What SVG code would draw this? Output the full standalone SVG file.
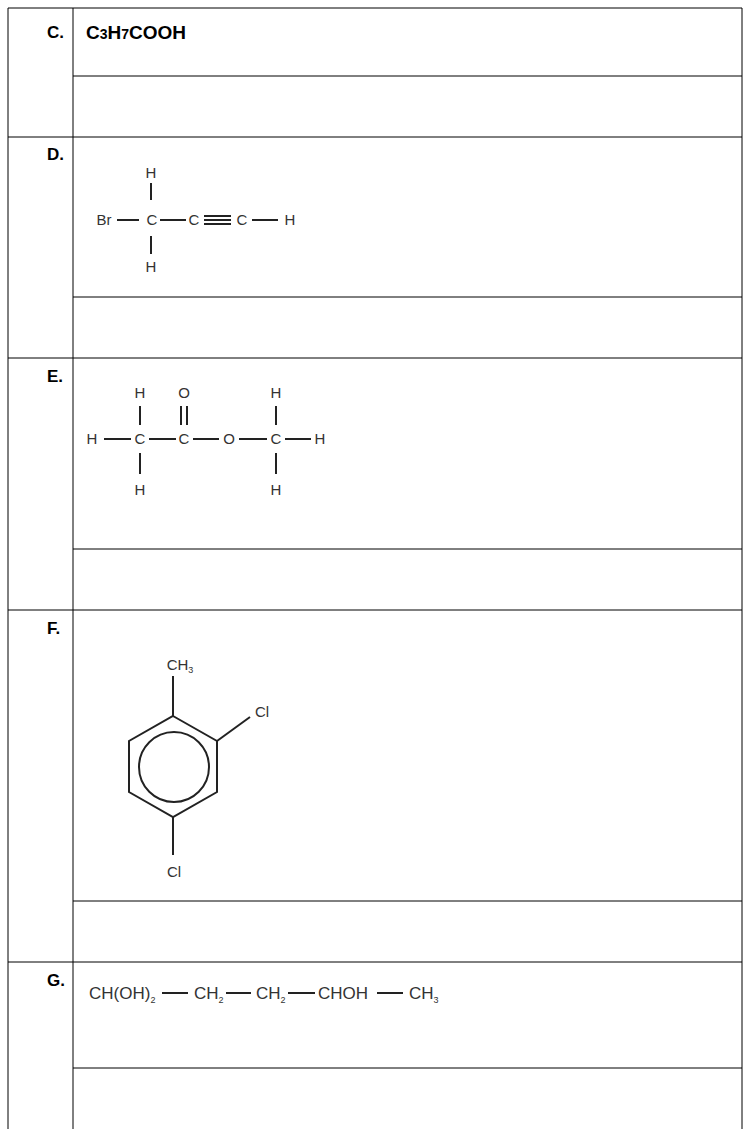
<svg xmlns="http://www.w3.org/2000/svg" width="752" height="1129" viewBox="0 0 752 1129">
<style>
.g{stroke:#000;stroke-width:1;fill:none}
.b{stroke:#222;stroke-width:2;fill:none}
.lab{font-family:"Liberation Sans",Arial,sans-serif;font-weight:bold;font-size:17px;fill:#000}
.a{font-family:"Liberation Sans",Arial,sans-serif;font-size:15px;fill:#333;text-anchor:middle}
.s{font-family:"Liberation Sans",Arial,sans-serif;font-size:9px;fill:#333}
.f{font-family:"Liberation Sans",Arial,sans-serif;font-size:17px;fill:#333}
</style>
<rect width="752" height="1129" fill="#fff"/>
<g id="table" class="g">
<line x1="8" y1="8" x2="742" y2="8"/>
<line x1="8" y1="8" x2="8" y2="1129"/>
<line x1="73" y1="8" x2="73" y2="1129"/>
<line x1="742" y1="8" x2="742" y2="1129"/>
<line x1="73" y1="76" x2="742" y2="76"/>
<line x1="8" y1="137" x2="742" y2="137"/>
<line x1="73" y1="297" x2="742" y2="297"/>
<line x1="8" y1="358" x2="742" y2="358"/>
<line x1="73" y1="549" x2="742" y2="549"/>
<line x1="8" y1="610" x2="742" y2="610"/>
<line x1="73" y1="901" x2="742" y2="901"/>
<line x1="8" y1="962" x2="742" y2="962"/>
<line x1="73" y1="1068" x2="742" y2="1068"/>
</g>
<g id="labels">
<text class="lab" x="47" y="38">C.</text>
<text class="lab" x="86" y="39" style="font-size:19px">C<tspan style="font-size:14px">3</tspan>H<tspan style="font-size:14px">7</tspan>COOH</text>
<text class="lab" x="47" y="160">D.</text>
<text class="lab" x="47" y="382">E.</text>
<text class="lab" x="47" y="634">F.</text>
<text class="lab" x="47" y="986">G.</text>
</g>
<g id="molD">
<text class="a" x="104" y="225">Br</text>
<text class="a" x="152" y="225">C</text>
<text class="a" x="151" y="178">H</text>
<text class="a" x="151" y="272">H</text>
<text class="a" x="194" y="225">C</text>
<text class="a" x="242" y="225">C</text>
<text class="a" x="290" y="225">H</text>
<g class="b">
<line x1="117" y1="220" x2="139" y2="220"/>
<line x1="160" y1="220" x2="186" y2="220"/>
<line x1="204" y1="216" x2="231" y2="216"/>
<line x1="204" y1="220" x2="231" y2="220"/>
<line x1="204" y1="224" x2="231" y2="224"/>
<line x1="252" y1="220" x2="278" y2="220"/>
<line x1="151" y1="183" x2="151" y2="200"/>
<line x1="151" y1="236" x2="151" y2="254"/>
</g>
</g>
<g id="molE">
<text class="a" x="92" y="444">H</text>
<text class="a" x="140" y="444">C</text>
<text class="a" x="184" y="444">C</text>
<text class="a" x="229" y="444">O</text>
<text class="a" x="276" y="444">C</text>
<text class="a" x="320" y="444">H</text>
<text class="a" x="140" y="398">H</text>
<text class="a" x="184" y="398">O</text>
<text class="a" x="276" y="398">H</text>
<text class="a" x="140" y="495">H</text>
<text class="a" x="276" y="495">H</text>
<g class="b">
<line x1="104" y1="439" x2="131" y2="439"/>
<line x1="149" y1="439" x2="176" y2="439"/>
<line x1="193" y1="439" x2="219" y2="439"/>
<line x1="239" y1="439" x2="267" y2="439"/>
<line x1="285" y1="439" x2="311" y2="439"/>
<line x1="140" y1="406" x2="140" y2="425"/>
<line x1="140" y1="453" x2="140" y2="474"/>
<line x1="276" y1="406" x2="276" y2="425"/>
<line x1="276" y1="453" x2="276" y2="474"/>
<line x1="181" y1="406" x2="181" y2="425"/>
<line x1="187" y1="406" x2="187" y2="425"/>
</g>
</g>
<g id="molF">
<g class="b">
<polygon points="173,716 217,741 217,792 173,817 129,792 129,741"/>
<circle cx="174" cy="767" r="35"/>
<line x1="173" y1="716" x2="173" y2="676"/>
<line x1="217" y1="741" x2="250" y2="717"/>
<line x1="173" y1="817" x2="173" y2="855"/>
</g>
<text class="a" x="180" y="670">CH<tspan class="s" dy="3">3</tspan></text>
<text class="a" x="262" y="717">Cl</text>
<text class="a" x="174" y="877">Cl</text>
</g>
<g id="molG">
<text class="f" x="89" y="999">CH(OH)<tspan class="s" dy="4">2</tspan></text>
<text class="f" x="194" y="999">CH<tspan class="s" dy="4">2</tspan></text>
<text class="f" x="256" y="999">CH<tspan class="s" dy="4">2</tspan></text>
<text class="f" x="318" y="999">CHOH</text>
<text class="f" x="409" y="999">CH<tspan class="s" dy="4">3</tspan></text>
<g class="b">
<line x1="162" y1="993" x2="188" y2="993"/>
<line x1="226" y1="993" x2="251" y2="993"/>
<line x1="288" y1="993" x2="315" y2="993"/>
<line x1="377" y1="993" x2="403" y2="993"/>
</g>
</g>
</svg>
